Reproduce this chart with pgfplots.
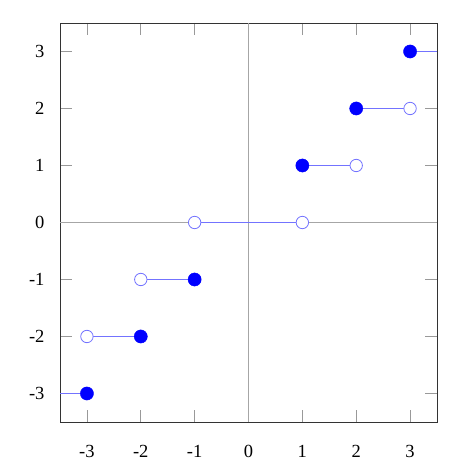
\documentclass[border=0pt]{standalone}
\usepackage{fontspec}
\setmainfont{Liberation Serif}
\usepackage{pgfplots}
\pgfplotsset{compat=1.18}
\begin{document}
\begin{tikzpicture}
\begin{axis}[
  scale only axis,
  width=377bp, height=399bp,
  xmin=-3.5, xmax=3.5, ymin=-3.5, ymax=3.5,
  xtick={-3,-2,-1,0,1,2,3},
  ytick={-3,-2,-1,0,1,2,3},
  xticklabels={-3,-2,-1,0,1,2,3},
  yticklabels={-3,-2,-1,0,1,2,3},
  tick align=inside,
  major tick length=12bp,
  tick style={gray!80, line width=0.8bp},
  axis line style={black!80, line width=0.9bp},
  tick label style={font=\fontsize{18.5bp}{20bp}\selectfont},
  xticklabel style={yshift=-20bp},
  yticklabel style={xshift=-12bp},
  clip=true,
]
\draw[gray!70, line width=0.8bp] (axis cs:0,-3.5) -- (axis cs:0,3.5);
\draw[gray!70, line width=0.8bp] (axis cs:-3.5,0) -- (axis cs:3.5,0);
\addplot[blue!55, line width=0.8bp, no markers, unbounded coords=jump] coordinates {
  (-3.5,-3) (-3,-3) (-3,nan)
  (-3,-2) (-2,-2) (-2,nan)
  (-2,-1) (-1,-1) (-1,nan)
  (-1,0) (1,0) (1,nan)
  (1,1) (2,1) (2,nan)
  (2,2) (3,2) (3,nan)
  (3,3) (3.5,3)
};
\addplot[only marks, mark=*, mark size=6.2bp, mark options={fill=white, draw=blue!55, line width=0.8bp}] coordinates {
  (-3,-2) (-2,-1) (-1,0) (1,0) (2,1) (3,2)
};
\addplot[only marks, mark=*, mark size=6.6bp, mark options={fill=blue, draw=blue}] coordinates {
  (-3,-3) (-2,-2) (-1,-1) (1,1) (2,2) (3,3)
};
\end{axis}
\path (current axis.south west) ++(-60bp,-52bp) coordinate (bbA);
\path (current axis.north east) ++(37bp,23bp) coordinate (bbB);
\path (bbA) rectangle (bbB);
\end{tikzpicture}
\end{document}
